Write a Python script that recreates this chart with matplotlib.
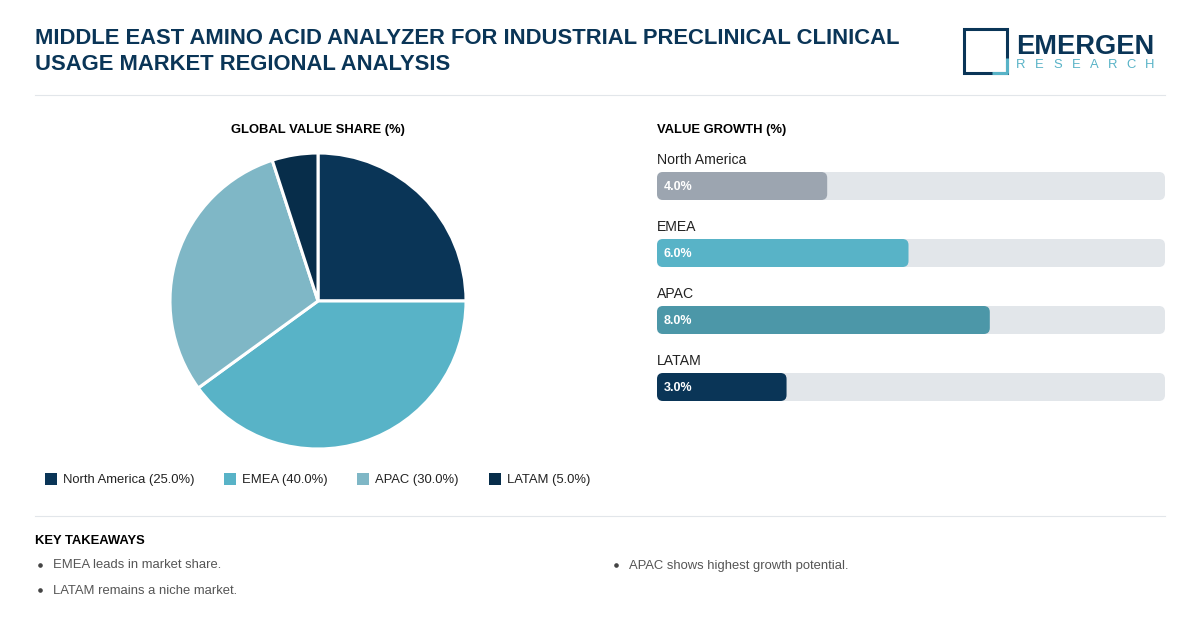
import matplotlib
matplotlib.use("Agg")
import matplotlib.pyplot as plt
from matplotlib.patches import FancyBboxPatch, Rectangle

plt.rcParams['font.family'] = ['Liberation Sans', 'DejaVu Sans']

W, H = 1200, 620

# data
regions = ["North America", "EMEA", "APAC", "LATAM"]
share = [25.0, 40.0, 30.0, 5.0]
growth = [4.0, 6.0, 8.0, 3.0]
takeaways_left = ["EMEA leads in market share.", "LATAM remains a niche market."]
takeaways_right = ["APAC shows highest growth potential."]

pie_colors = ["#0a3557", "#58b3c7", "#7fb7c6", "#072d4a"]
bar_colors = ["#9ca5b0", "#58b3c7", "#4c97a8", "#0a3557"]
track_color = "#e2e6ea"
navy = "#0a3557"


def px(size):
    # css px to points
    return size * 72 / 100


fig = plt.figure(figsize=(W / 100, H / 100), dpi=100, facecolor="white")

# full page axes in pixel coords, for the text and rules
page = fig.add_axes([0, 0, 1, 1])
page.set_xlim(0, W)
page.set_ylim(H, 0)
page.axis("off")

# title
page.text(35, 38.5, "MIDDLE EAST AMINO ACID ANALYZER FOR INDUSTRIAL PRECLINICAL CLINICAL",
          fontsize=px(22), fontweight="bold", color=navy, va="center")
page.text(35, 64.5, "USAGE MARKET REGIONAL ANALYSIS",
          fontsize=px(22), fontweight="bold", color=navy, va="center")

# logo
page.add_patch(Rectangle((964, 29), 43, 44, fill=False, ec=navy, lw=2.2))
page.plot([1007, 1007], [58, 73], color="#58b3c7", lw=2.2, solid_capstyle="butt")
page.plot([992, 1008], [73, 73], color="#58b3c7", lw=2.2, solid_capstyle="butt")
page.text(1016, 47.5, "EMERGEN", fontsize=px(27.3), fontweight="bold", color=navy, va="center")
for i, ch in enumerate("RESEARCH"):
    page.text(1021 + i * 18.3, 65, ch, fontsize=px(13), color="#58b3c7", va="center", ha="center")

# rules
page.plot([35, 1165], [95, 95], color="#e2e6ea", lw=0.8)
page.plot([35, 1165], [516, 516], color="#e2e6ea", lw=0.8)

# pie
page.text(318, 130, "GLOBAL VALUE SHARE (%)", fontsize=px(13), fontweight="bold",
          color="black", ha="center", va="center")
pie_ax = fig.add_axes([170 / W, 1 - 449 / H, 296 / W, 296 / H])
pie_ax.pie(share, colors=pie_colors, startangle=90, counterclock=False, radius=1,
           wedgeprops={"edgecolor": "white", "linewidth": 2.2})
pie_ax.set_xlim(-1, 1)
pie_ax.set_ylim(-1, 1)

# legend
legend_x = [45, 224, 357, 489]
for x, name, val, col in zip(legend_x, regions, share, pie_colors):
    page.add_patch(Rectangle((x, 473), 12, 12, fc=col, ec="none"))
    page.text(x + 18, 480, f"{name} ({val:.1f}%)", fontsize=px(13), color="#222222", va="center")

# growth bars
page.text(657, 130, "VALUE GROWTH (%)", fontsize=px(13), fontweight="bold",
          color="black", va="center")

bar_left, bar_right = 657, 1165
x_min, x_max = -0.187, 12.31
px_per_unit = (bar_right - bar_left) / (x_max - x_min)
bar_ax = fig.add_axes([bar_left / W, 0, (bar_right - bar_left) / W, 1])
bar_ax.set_xlim(x_min, x_max)
bar_ax.set_ylim(H, 0)
bar_ax.axis("off")
bar_ax.patch.set_alpha(0)

round_px = 6
for i, (name, val, col) in enumerate(zip(regions, growth, bar_colors)):
    top = 172 + i * 67
    page.text(657, top - 12, name, fontsize=px(14), color="#222222", va="center")
    for end, c in ((x_max, track_color), (val, col)):
        bar_ax.add_patch(FancyBboxPatch((x_min, top), end - x_min, 28,
                                        boxstyle=f"round,pad=0,rounding_size={round_px / px_per_unit}",
                                        mutation_aspect=px_per_unit, fc=c, ec="none"))
    bar_ax.text(x_min + 7 / px_per_unit, top + 15, f"{val:.1f}%", fontsize=px(12.5),
                fontweight="bold", color="white", va="center")

# takeaways
page.text(35, 540.5, "KEY TAKEAWAYS", fontsize=px(13), fontweight="bold", color="black", va="center")
for i, t in enumerate(takeaways_left):
    y = 564 + i * 25
    page.plot([39.5], [y + 0.5], "o", color="#444444", ms=2.3)
    page.text(53, y + 1.5, t, fontsize=px(13), color="#555555", va="center")
for i, t in enumerate(takeaways_right):
    y = 564 + i * 25
    page.plot([615.5], [y + 0.5], "o", color="#444444", ms=2.3)
    page.text(629, y + 1.5, t, fontsize=px(13), color="#555555", va="center")

fig.savefig("out.png", dpi=100, facecolor="white")
